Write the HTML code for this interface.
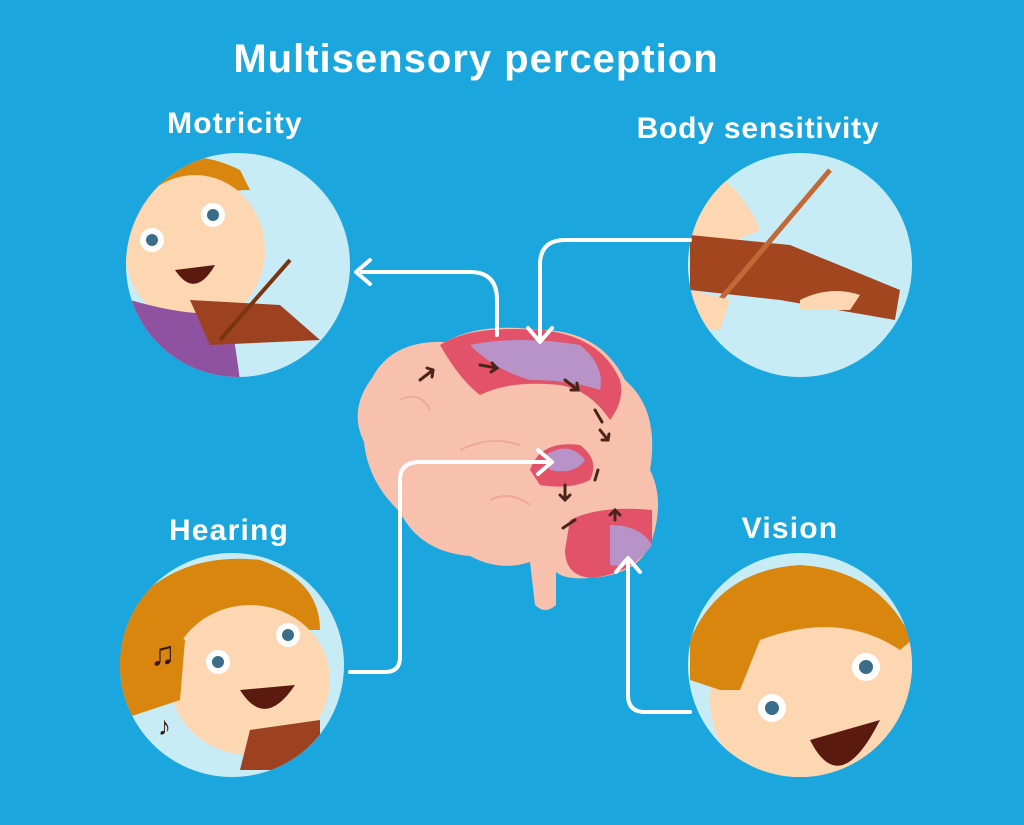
<!DOCTYPE html>
<html><head><meta charset="utf-8"><style>
html,body{margin:0;padding:0;background:#1ba7dd;}
svg{display:block}
text{font-family:"Liberation Sans",sans-serif;font-weight:bold;fill:#fff}
</style></head><body>
<svg width="1024" height="825" viewBox="0 0 1024 825">
<rect width="1024" height="825" fill="#1ba7dd"/>
<text x="476" y="72" font-size="40" letter-spacing="1" text-anchor="middle">Multisensory perception</text>
<text x="235" y="133" font-size="30" letter-spacing="1.2" text-anchor="middle">Motricity</text>
<text x="758" y="138" font-size="30" letter-spacing="0.8" text-anchor="middle">Body sensitivity</text>
<text x="229" y="540" font-size="30" letter-spacing="1.2" text-anchor="middle">Hearing</text>
<text x="790" y="538" font-size="30" letter-spacing="1.2" text-anchor="middle">Vision</text>

<defs>
<clipPath id="c1"><circle cx="238" cy="265" r="112"/></clipPath>
<clipPath id="c2"><circle cx="800" cy="265" r="112"/></clipPath>
<clipPath id="c3"><circle cx="232" cy="665" r="112"/></clipPath>
<clipPath id="c4"><circle cx="800" cy="665" r="112"/></clipPath>
</defs>

<!-- circle 1 motricity -->
<circle cx="238" cy="265" r="112" fill="#c8ecf6"/>
<g clip-path="url(#c1)">
<path d="M130 180 Q180 140 240 170 L250 190 Q200 190 160 230 L130 240Z" fill="#d9860e"/>
<ellipse cx="195" cy="250" rx="70" ry="75" fill="#fcd7b2"/>
<path d="M130 300 Q200 320 230 310 L240 380 L130 380Z" fill="#8e52a0"/>
<path d="M190 300 L280 305 L320 340 L210 345Z" fill="#9c4220"/>
<line x1="220" y1="340" x2="290" y2="260" stroke="#7b3410" stroke-width="4"/>
<circle cx="152" cy="240" r="12" fill="#fff"/><circle cx="152" cy="240" r="6" fill="#3b6d8a"/>
<circle cx="213" cy="215" r="12" fill="#fff"/><circle cx="213" cy="215" r="6" fill="#3b6d8a"/>
<path d="M175 270 Q195 300 215 265Z" fill="#5a1a10"/>
</g>

<!-- circle 2 body sensitivity -->
<circle cx="800" cy="265" r="112" fill="#c8ecf6"/>
<g clip-path="url(#c2)">
<path d="M690 160 Q740 180 760 230 L690 260Z" fill="#fcd7b2"/>
<path d="M690 235 L790 245 L900 290 L895 320 L780 300 L690 290Z" fill="#a2461f"/>
<line x1="720" y1="300" x2="830" y2="170" stroke="#c26a37" stroke-width="5"/>
<path d="M800 300 Q830 285 860 295 L850 310 L800 310Z" fill="#fcd7b2"/>
<path d="M690 290 L730 300 L720 330 L690 330Z" fill="#fcd7b2"/>
</g>

<!-- circle 3 hearing -->
<circle cx="232" cy="665" r="112" fill="#c8ecf6"/>
<g clip-path="url(#c3)">
<path d="M120 620 Q170 550 260 560 Q320 580 320 630 L190 630 L170 680 L120 700Z" fill="#d9860e"/>
<ellipse cx="250" cy="680" rx="80" ry="75" fill="#fcd7b2"/>
<path d="M120 630 Q160 620 185 640 L180 700 L120 720Z" fill="#d9860e"/>
<circle cx="218" cy="662" r="12" fill="#fff"/><circle cx="218" cy="662" r="6" fill="#3b6d8a"/>
<circle cx="288" cy="635" r="12" fill="#fff"/><circle cx="288" cy="635" r="6" fill="#3b6d8a"/>
<path d="M240 690 Q265 730 295 685Z" fill="#5a1a10"/>
<path d="M250 730 L320 720 L320 770 L240 770Z" fill="#9c4220"/>
<text x="150" y="665" font-size="34" style="fill:#3a1a10">♫</text>
<text x="158" y="735" font-size="26" style="fill:#3a1a10">♪</text>
</g>

<!-- circle 4 vision -->
<circle cx="800" cy="665" r="112" fill="#c8ecf6"/>
<g clip-path="url(#c4)">
<ellipse cx="820" cy="700" rx="110" ry="100" fill="#fcd7b2"/>
<path d="M690 640 Q720 570 800 565 Q880 570 912 640 L900 650 Q840 610 760 640 L740 690 L720 690 L690 680Z" fill="#d9860e"/>
<circle cx="772" cy="708" r="14" fill="#fff"/><circle cx="772" cy="708" r="7" fill="#3b6d8a"/>
<circle cx="866" cy="667" r="14" fill="#fff"/><circle cx="866" cy="667" r="7" fill="#3b6d8a"/>
<path d="M810 740 Q840 800 880 720Z" fill="#5a1a10"/>
</g>

<!-- brain -->
<g>
<path d="M372 378 Q392 340 445 342 Q480 322 540 330 Q600 330 625 380 Q660 410 650 470 Q665 500 652 540 Q640 575 590 578 Q565 580 556 572 L556 605 Q545 615 535 605 L530 562 Q500 572 470 556 Q420 552 400 512 Q368 482 364 442 Q348 410 372 378Z" fill="#f7c1ae"/>
<path d="M440 345 Q470 325 540 330 Q600 335 620 380 Q625 400 610 420 Q590 390 560 385 Q510 380 480 395 Q460 380 440 345Z" fill="#e2536a"/>
<path d="M470 345 Q520 335 580 345 Q605 365 600 390 Q570 380 530 380 Q495 370 470 345Z" fill="#b893c8"/>
<path d="M530 470 Q540 440 580 445 Q600 460 590 480 Q570 490 540 485Z" fill="#e2536a"/>
<path d="M545 455 Q570 440 585 460 Q575 475 550 470Z" fill="#b893c8"/>
<path d="M570 520 Q600 505 652 510 L652 545 Q630 575 590 578 Q565 575 565 550Z" fill="#e2536a"/>
<path d="M610 525 Q640 525 652 545 Q635 570 610 565Z" fill="#b893c8"/>
<g fill="none" stroke="#f0a898" stroke-width="2">
<path d="M400 400 Q420 390 430 410"/><path d="M460 450 Q490 435 520 445"/><path d="M490 500 Q510 490 530 505"/>
</g>
<g fill="none" stroke="#4a2418" stroke-width="3" stroke-linecap="round">
<path d="M420 380 L433 370 M427 368 L433 370 L432 377"/>
<path d="M480 365 L497 368 M492 363 L497 368 L491 372"/>
<path d="M565 380 L578 390 M571 390 L578 390 L577 383"/>
<path d="M595 410 L602 422"/><path d="M600 430 L608 440 M602 440 L608 440 L609 434"/>
<path d="M598 470 L595 480"/>
<path d="M565 485 L565 500 M560 495 L565 500 L570 495"/>
<path d="M575 520 L563 528"/><path d="M615 510 L615 520 M610 515 L615 510 L620 515"/>
</g>
</g>

<!-- connectors (on top) -->
<g fill="none" stroke="#fff" stroke-width="4" stroke-linecap="round" stroke-linejoin="round">
<path d="M497 335 V300 Q497 272 470 272 H362"/>
<path d="M370 260 L356 272 L370 284"/>
<path d="M690 240 H565 Q540 240 540 265 V340"/>
<path d="M528 328 L540 342 L552 328"/>
<path d="M350 672 H385 Q400 672 400 657 V480 Q400 462 420 462 H550"/>
<path d="M538 450 L552 462 L538 474"/>
<path d="M690 712 H645 Q628 712 628 695 V560"/>
<path d="M616 572 L628 558 L640 572"/>
</g>
</svg>
</body></html>
